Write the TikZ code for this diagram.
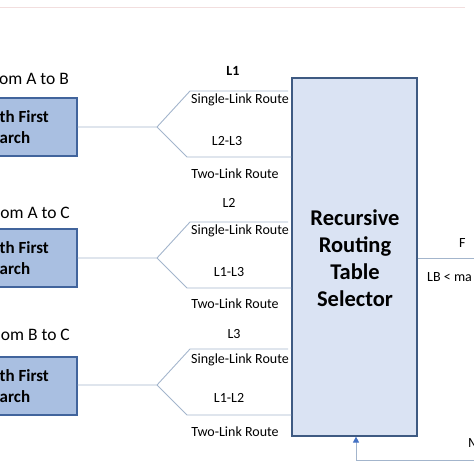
\documentclass[tikz,border=0pt]{standalone}
\usepackage{fontspec}
\setmainfont{Carlito}
\usetikzlibrary{arrows.meta}
\definecolor{dfsfill}{HTML}{A9BFE1}
\definecolor{dfsdraw}{HTML}{41649C}
\definecolor{selfill}{HTML}{DAE3F3}
\definecolor{seldraw}{HTML}{3E5A82}
\definecolor{wire}{HTML}{A3B5CC}
\definecolor{topline}{HTML}{F2DEDE}
\definecolor{tipcol}{HTML}{4472C4}
\begin{document}
\begin{tikzpicture}[x=1pt,y=-1pt,
  dfsbox/.style={draw=dfsdraw,fill=dfsfill,line width=1.2pt,minimum width=117pt,minimum height=58pt,inner sep=0pt},
  dfstext/.style={anchor=west,align=left,font=\fontsize{17}{21}\selectfont\bfseries,inner sep=0pt},
  pathlbl/.style={anchor=east,font=\fontsize{17.5}{20}\selectfont,inner sep=0pt},
  routelbl/.style={font=\fontsize{14}{16}\selectfont,inner sep=0pt},
  wireline/.style={draw=wire,line width=0.9pt},
  selbox/.style={draw=seldraw,fill=selfill,line width=1.2pt,minimum width=125pt,minimum height=358pt,inner sep=0pt}]
\useasboundingbox (0,0) rectangle (474,474);
\clip (0,0) rectangle (474,474);
% top faint line
\coordinate (t1) at (0,7);
\coordinate (t2) at (465,7);
\draw[topline,line width=0.8pt] (t1) -- (t2);
% selector
\node[selbox] (sel) at (354.5,257) {};
\node[align=center,font=\fontsize{22.5}{26.8}\selectfont\bfseries,inner sep=0pt] (selt) at (355,258) {Recursive\\Routing\\Table\\Selector};
% group boxes
\node[dfsbox] (s1) at (18.5,127) {};
\node[dfsbox] (s2) at (18.5,258) {};
\node[dfsbox] (s3) at (18.5,386) {};
\node[dfstext] (s1t) at (-0.5,127.5) {th First\\arch};
\node[dfstext] (s2t) at (-0.5,258.5) {th First\\arch};
\node[dfstext] (s3t) at (-0.5,386.5) {th First\\arch};
\node[pathlbl] (p1) at (69,79) {om A to B};
\node[pathlbl] (p2) at (70,213) {om A to C};
\node[pathlbl] (p3) at (70,335) {om B to C};
% wires
\foreach \i/\y/\u/\l in {1/127/91/157, 2/258/222/288, 3/385/349/415}{
  \coordinate (f\i) at (157,\y);
  \coordinate (ua\i) at (190,\u);
  \coordinate (ub\i) at (288,\u);
  \coordinate (la\i) at (187,\l);
  \draw[wireline] (s\i.east |- f\i) -- (f\i) -- (ua\i) -- (ub\i);
  \draw[wireline] (f\i) -- (la\i) -- (la\i -| sel.west);
}
% route labels
\node[routelbl,font=\fontsize{14}{16}\selectfont\bfseries] (a1) at (233,71) {L1};
\node[routelbl] (b1) at (240,100) {Single-Link Route};
\node[routelbl] (c1) at (227,141) {L2-L3};
\node[routelbl] (d1) at (235,174) {Two-Link Route};
\node[routelbl] (a2) at (229,203) {L2};
\node[routelbl] (b2) at (240,231) {Single-Link Route};
\node[routelbl] (c2) at (229,272) {L1-L3};
\node[routelbl] (d2) at (235,304) {Two-Link Route};
\node[routelbl] (a3) at (234,334) {L3};
\node[routelbl] (b3) at (240,360) {Single-Link Route};
\node[routelbl] (c3) at (229,398) {L1-L2};
\node[routelbl] (d3) at (235,432) {Two-Link Route};
% right side
\coordinate (r1) at (480,258);
\draw[wireline] (sel.east |- r1) -- (r1);
\node[routelbl,anchor=west] (rf) at (459,243) {F};
\node[routelbl,anchor=west] (rl) at (427,277) {LB < ma};
% feedback
\coordinate (fb) at (356,460);
\coordinate (fr) at (480,460);
\draw[wireline,-{Triangle[length=6pt,width=6pt,color=tipcol]}] (fr) -- (fb) -- (sel.south -| fb);
\node[routelbl,anchor=west] (rm) at (468,443) {M};
\end{tikzpicture}
\end{document}
